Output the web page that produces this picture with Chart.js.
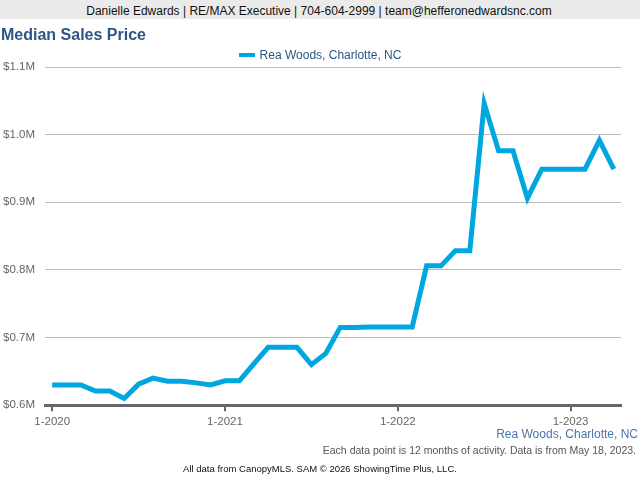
<!DOCTYPE html>
<html>
<head>
<meta charset="utf-8">
<script src="https://cdn.jsdelivr.net/npm/chart.js@4"></script>
<style>
	body { margin: 0; background: #fff; font-family: "Liberation Sans", Arial, sans-serif; }
	#wrap { position: relative; width: 640px; height: 480px; overflow: hidden; }
	#chart { position: absolute; left: 0; top: 0; }
	.txt { position: absolute; white-space: nowrap; }
	#header { left: 0; top: 0; width: 638px; padding-right: 2px; height: 19px; line-height: 22px; background: #ebebeb; text-align: center; font-size: 12px; color: #111; }
	#title { left: 1px; top: 26px; font-size: 16px; font-weight: bold; color: #2b5685; }
	#legend { left: 0; width: 640px; top: 47px; text-align: center; font-size: 12px; color: #2b5685; line-height: 16px; }
	#legend .box { display: inline-block; width: 16px; height: 4px; margin-right: 5px; vertical-align: middle; position: relative; top: -1px; }
	#area { right: 2px; top: 427px; font-size: 12px; color: #4a76a8; }
	#note { right: 4px; top: 444px; font-size: 10.5px; color: #555; }
	#source { left: 0; width: 640px; text-align: center; top: 463px; font-size: 9.5px; color: #111; }
</style>
</head>
<body>
<div id="wrap">
	<canvas id="chart" width="640" height="480"></canvas>
	<div class="txt" id="header">Danielle Edwards | RE/MAX Executive | 704-604-2999 | team@hefferonedwardsnc.com</div>
	<div class="txt" id="title">Median Sales Price</div>
	<div class="txt" id="legend"></div>
	<div class="txt" id="area">Rea Woods, Charlotte, NC</div>
	<div class="txt" id="note">Each data point is 12 months of activity. Data is from May 18, 2023.</div>
	<div class="txt" id="source">All data from CanopyMLS. SAM © 2026 ShowingTime Plus, LLC.</div>
</div>
<script>
// Months 1-2020 .. 4-2023
const MONTHS = [
	"1-2020", "2-2020", "3-2020", "4-2020", "5-2020", "6-2020", "7-2020", "8-2020", "9-2020", "10-2020", "11-2020", "12-2020",
	"1-2021", "2-2021", "3-2021", "4-2021", "5-2021", "6-2021", "7-2021", "8-2021", "9-2021", "10-2021", "11-2021", "12-2021",
	"1-2022", "2-2022", "3-2022", "4-2022", "5-2022", "6-2022", "7-2022", "8-2022", "9-2022", "10-2022", "11-2022", "12-2022",
	"1-2023", "2-2023", "3-2023", "4-2023",
];
const TICK_LABELS = ["1-2020", "1-2021", "1-2022", "1-2023"];

const REA_WOODS = [
	630000, 630000, 630000, 621000, 621000, 610000, 631000, 640000, 635500, 635500, 633000, 630000,
	636000, 636000, 661000, 685500, 685500, 685500, 660000, 676500, 715000, 715000, 715500, 715500,
	715500, 715500, 806000, 806000, 828500, 828500, 1046000, 976000, 976000, 906000, 949000, 949000,
	949000, 949000, 991500, 949000,
];

const Y_MIN = 600000;
const Y_MAX = 1100000;
const Y_STEP = 100000;

const LINE_COLOR = "#00a6df";
const MUTED = "#666666";

const CHART_DATA = {
	labels: MONTHS,
	datasets: [
		{
			label: "Rea Woods, Charlotte, NC",
			data: REA_WOODS,
			borderColor: LINE_COLOR,
			backgroundColor: LINE_COLOR,
			borderWidth: 5,
			pointRadius: 0,
			pointHoverRadius: 0,
			tension: 0,
			fill: false,
		},
	],
};

const CHART_CONFIG = {
	type: "line",
	data: CHART_DATA,
	options: {
		responsive: false,
		animation: false,
		layout: {
			padding: { top: 67, left: 0, right: 19, bottom: 47 },
		},
		plugins: {
			legend: { display: false },
			title: { display: false },
			tooltip: { enabled: false },
		},
		scales: {
			x: {
				type: "category",
				offset: true,
				border: {
					display: true,
					color: MUTED,
					width: 3,
				},
				grid: {
					drawOnChartArea: false,
					drawTicks: true,
					tickLength: 6,
					lineWidth: 2,
					color: (ctx) => (ctx.tick && TICK_LABELS.includes(MONTHS[ctx.index]) ? MUTED : "rgba(0,0,0,0)"),
				},
				ticks: {
					autoSkip: false,
					maxRotation: 0,
					padding: 4,
					color: MUTED,
					font: { family: "Liberation Sans", size: 11.5 },
					callback: (value, index) => (TICK_LABELS.includes(MONTHS[index]) ? MONTHS[index] : ""),
				},
			},
			y: {
				min: Y_MIN,
				max: Y_MAX,
				afterFit: (scale) => {
					scale.width = 45;
				},
				border: { display: false },
				grid: {
					drawTicks: false,
					color: (ctx) => (ctx.tick && ctx.tick.value === Y_MIN ? "rgba(0,0,0,0)" : "#bdbdbd"),
				},
				ticks: {
					stepSize: Y_STEP,
					padding: 10,
					color: MUTED,
					font: { family: "Liberation Sans", size: 11.5 },
					callback: (value) => "$" + (value / 1000000).toFixed(1) + "M",
				},
			},
		},
	},
};

const CHART_WRAPPER = document.getElementById("chart");
if (CHART_WRAPPER) {
	const chart = new Chart(CHART_WRAPPER, CHART_CONFIG);
	// HTML legend built from the dataset
	const legendEl = document.getElementById("legend");
	chart.data.datasets.forEach((ds) => {
		const box = document.createElement("span");
		box.className = "box";
		box.style.background = ds.borderColor;
		legendEl.appendChild(box);
		legendEl.appendChild(document.createTextNode(ds.label));
	});
}
</script>
</body>
</html>
